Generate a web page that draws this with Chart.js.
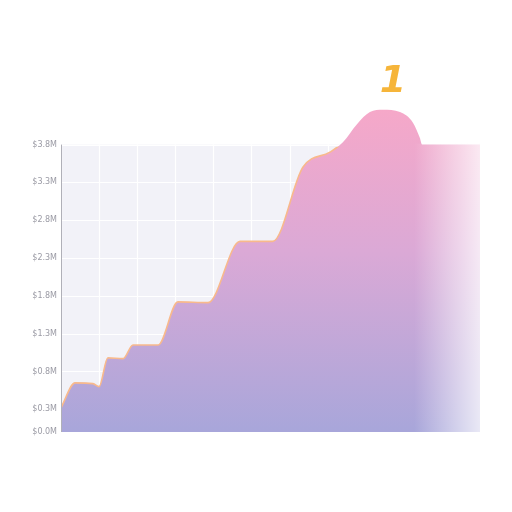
<!DOCTYPE html>
<html>
<head>
<meta charset="utf-8">
<script src="https://cdn.jsdelivr.net/npm/chart.js@4"></script>
<style>
  html, body { margin: 0; padding: 0; background: #fff; }
  #wrap { width: 512px; height: 512px; }
</style>
</head>
<body>
<div id="wrap"><canvas id="chart"></canvas></div>
<script>
// values (x in grid steps, y in $M)
const xValues = [0, 0.37, 0.84, 1.0, 1.23, 1.63, 1.89, 2.55, 3.07, 3.86, 4.7, 5.56, 6.35, 7.06, 7.4, 7.77, 8.11, 8.45, 8.9, 9.24, 9.42, 9.48, 11];
const revenue = [0.32, 0.65, 0.64, 0.6, 0.98, 0.97, 1.15, 1.15, 1.72, 1.71, 2.52, 2.52, 3.5, 3.7, 3.83, 4.07, 4.23, 4.26, 4.23, 4.09, 3.89, 3.8, 3.8];
const yTicks = [0, 0.3, 0.8, 1.3, 1.8, 2.3, 2.8, 3.3, 3.8];
const yTickLabels = ['$0.0M', '$0.3M', '$0.8M', '$1.3M', '$1.8M', '$2.3M', '$2.8M', '$3.3M', '$3.8M'];
const peakIndex = 17;
const peakLabel = '1';

const plotTop = 3.8;   // the framed plot ends here, the peak rises above it
const yMax = 4.35;
const points = xValues.map((x, i) => ({ x, y: revenue[i] }));

const plotBackground = {
  id: 'plotBackground',
  beforeDatasetsDraw(chart) {
    const { ctx, chartArea: a, scales: { x, y } } = chart;
    const top = y.getPixelForValue(plotTop);
    ctx.save();
    ctx.fillStyle = '#f2f2f8';
    ctx.fillRect(a.left, top, a.right - a.left, a.bottom - top);
    ctx.strokeStyle = '#ffffff';
    ctx.lineWidth = 1.2;
    x.ticks.forEach(t => {
      const px = Math.round(x.getPixelForValue(t.value)) + 0.5;
      ctx.beginPath();
      ctx.moveTo(px, top);
      ctx.lineTo(px, a.bottom);
      ctx.stroke();
    });
    yTicks.forEach(v => {
      const py = Math.round(y.getPixelForValue(v)) + 0.5;
      ctx.beginPath();
      ctx.moveTo(a.left, py);
      ctx.lineTo(a.right, py);
      ctx.stroke();
    });
    ctx.restore();
  },
  afterDatasetsDraw(chart) {
    const { ctx, chartArea: a, scales: { y } } = chart;
    const top = y.getPixelForValue(plotTop);
    ctx.save();
    // fade to white on the right side
    const g = ctx.createLinearGradient(a.right - 66, 0, a.right, 0);
    g.addColorStop(0, 'rgba(255,255,255,0)');
    g.addColorStop(1, 'rgba(255,255,255,0.75)');
    ctx.fillStyle = g;
    ctx.fillRect(a.right - 66, top - 1, 66, a.bottom - top + 1);
    // left axis line
    ctx.strokeStyle = '#b0b0b8';
    ctx.lineWidth = 1;
    ctx.beginPath();
    ctx.moveTo(a.left + 0.5, top);
    ctx.lineTo(a.left + 0.5, a.bottom);
    ctx.stroke();
    // the "1" above the peak
    const p = chart.getDatasetMeta(0).data[peakIndex];
    ctx.fillStyle = '#f6b53a';
    ctx.font = 'italic bold 38px "DejaVu Sans"';
    ctx.textAlign = 'center';
    ctx.textBaseline = 'middle';
    ctx.fillText(peakLabel, p.x + 10, p.y - 28);
    ctx.restore();
  }
};

const canvas = document.getElementById('chart');
const chart = new Chart(canvas, {
  type: 'line',
  data: {
    datasets: [{
      label: 'Revenue',
      data: points,
      fill: 'start',
      borderWidth: 1.6,
      borderColor: (c) => {
        const { ctx, chartArea, scales } = c.chart;
        if (!chartArea) return '#f8b98c';
        const cut = scales.y.getPixelForValue(plotTop) + 1.5;
        const g = ctx.createLinearGradient(0, chartArea.top, 0, chartArea.bottom);
        const s = (cut - chartArea.top) / (chartArea.bottom - chartArea.top);
        g.addColorStop(0, 'rgba(248,185,140,0)');
        g.addColorStop(s, 'rgba(248,185,140,0)');
        g.addColorStop(Math.min(1, s + 0.004), 'rgba(248,185,140,1)');
        g.addColorStop(1, 'rgba(248,185,140,1)');
        return g;
      },
      backgroundColor: (c) => {
        const { ctx, chartArea } = c.chart;
        if (!chartArea) return '#d0a8d8';
        const g = ctx.createLinearGradient(0, chartArea.top, 0, chartArea.bottom);
        g.addColorStop(0, '#f7a8c8');
        g.addColorStop(0.45, '#dba9d6');
        g.addColorStop(1, '#a8a6da');
        return g;
      },
      pointRadius: 0,
      cubicInterpolationMode: 'monotone',
    }],
  },
  options: {
    animation: false,
    responsive: true,
    maintainAspectRatio: false,
    layout: { padding: { top: 103, bottom: 80, right: 32, left: 0 } },
    plugins: { legend: { display: false }, tooltip: { enabled: false } },
    scales: {
      x: {
        type: 'linear',
        min: 0,
        max: 11,
        afterFit: (scale) => { scale.height = 0; },
        ticks: { display: false, stepSize: 1 },
        grid: { display: false, drawTicks: false },
        border: { display: false },
      },
      y: {
        min: 0,
        max: yMax,
        afterBuildTicks: (scale) => { scale.ticks = yTicks.map(v => ({ value: v })); },
        afterFit: (scale) => { scale.width = 61; },
        ticks: {
          color: '#9a9aa4',
          font: { size: 8, family: 'DejaVu Sans' },
          padding: 4,
          callback: (v) => yTickLabels[yTicks.indexOf(v)],
        },
        grid: { display: false, drawTicks: false },
        border: { display: false },
      },
    },
  },
  plugins: [plotBackground],
});
</script>
</body>
</html>
